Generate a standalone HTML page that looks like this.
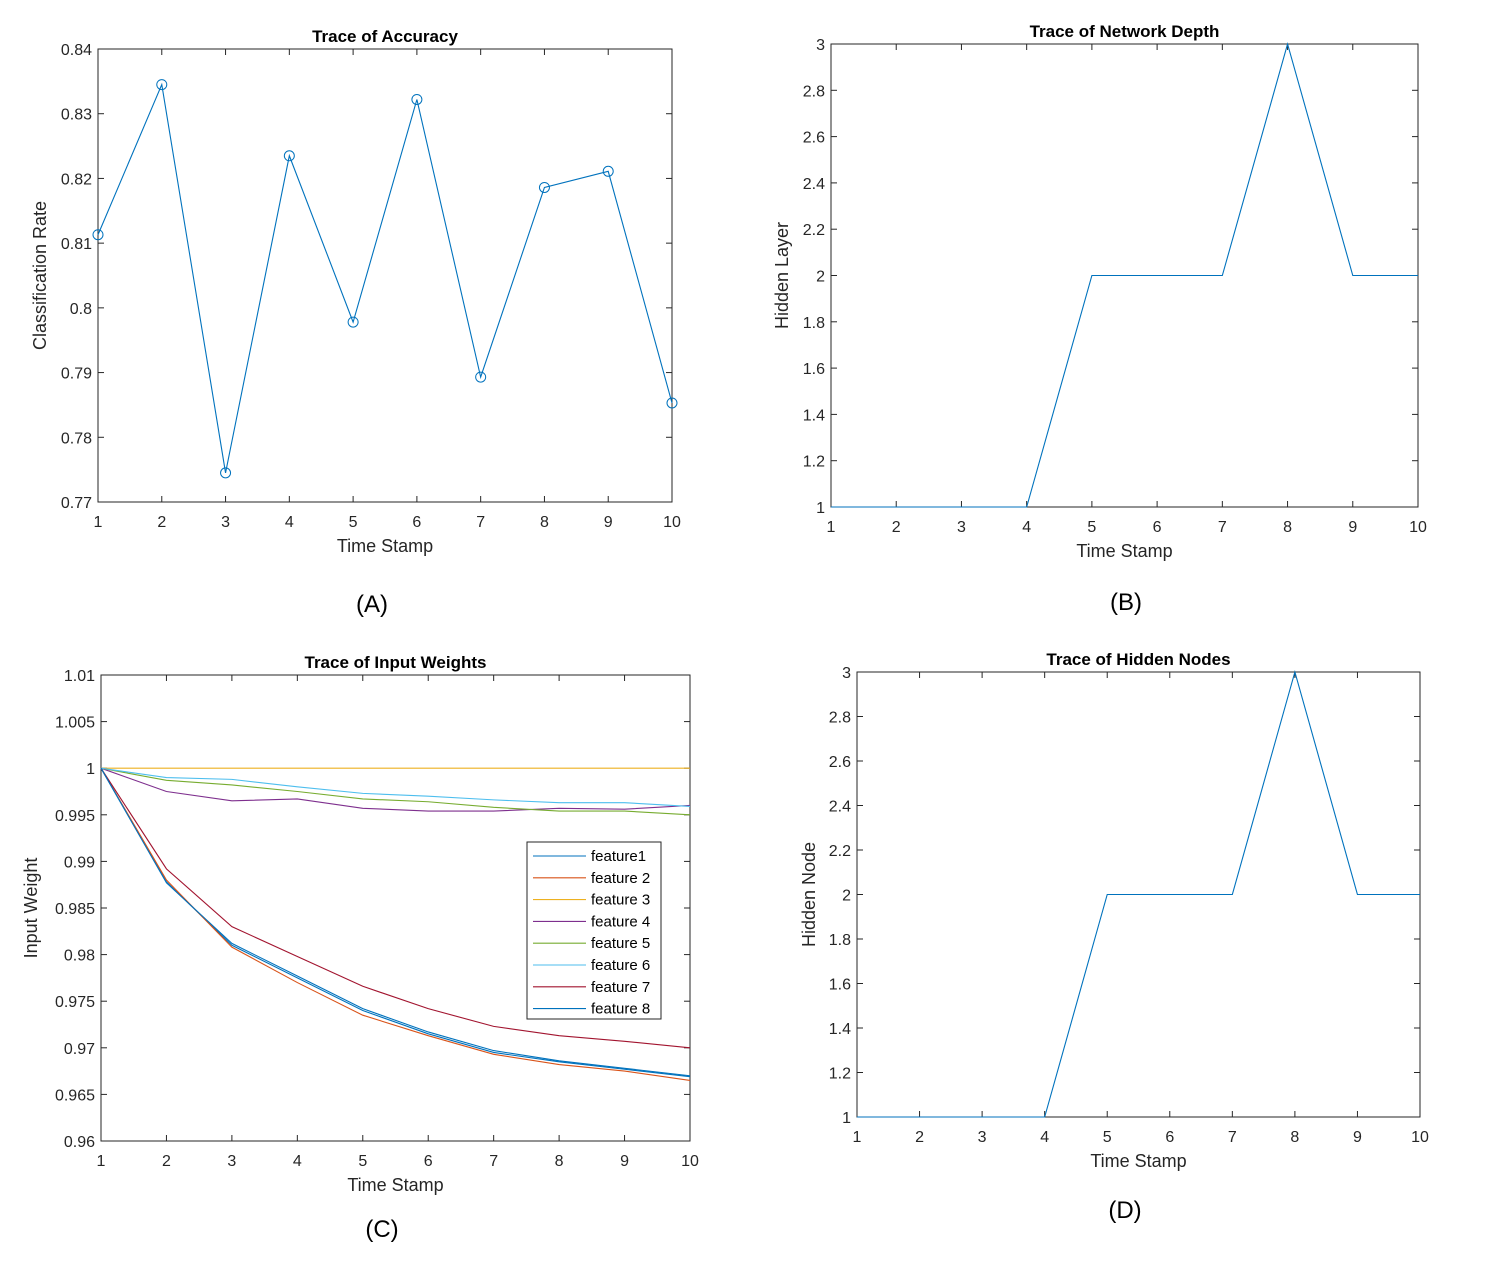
<!DOCTYPE html>
<html><head><meta charset="utf-8">
<style>
body{margin:0;background:#fff;}
svg{display:block;font-family:"Liberation Sans",Arial,sans-serif;}
</style></head>
<body>
<svg id="fig" width="1491" height="1263" xmlns="http://www.w3.org/2000/svg"></svg>
<script>
// ---- data ----
const timeStamps = [1,2,3,4,5,6,7,8,9,10];
const accuracy = [0.8113,0.8345,0.7745,0.8235,0.7978,0.8322,0.7893,0.8186,0.8211,0.7853];
const depth = [1,1,1,1,2,2,2,3,2,2];
const hiddenNodes = [1,1,1,1,2,2,2,3,2,2];
const featureNames = ["feature1","feature 2","feature 3","feature 4","feature 5","feature 6","feature 7","feature 8"];
const f1 = [1,0.9878,0.9810,0.9775,0.9740,0.9715,0.9695,0.9685,0.9677,0.9669];
const f2 = [1,0.9880,0.9808,0.9770,0.9735,0.9713,0.9693,0.9682,0.9675,0.9665];
const f3 = [1,1,1,1,1,1,1,1,1,1];
const f4 = [1,0.9975,0.9965,0.9967,0.9957,0.9954,0.9954,0.9957,0.9956,0.9960];
const f5 = [1,0.9987,0.9982,0.9975,0.9967,0.9964,0.9958,0.9954,0.9954,0.9950];
const f6 = [1,0.9990,0.9988,0.9980,0.9973,0.9970,0.9966,0.9963,0.9963,0.9959];
const f7 = [1,0.9892,0.9830,0.9798,0.9766,0.9742,0.9723,0.9713,0.9707,0.9700];
const f8 = [1,0.9877,0.9812,0.9777,0.9742,0.9717,0.9697,0.9686,0.9678,0.9670];
const featureSeries = [f1,f2,f3,f4,f5,f6,f7,f8];
const featureColors = ["#0072BD","#D95319","#EDB120","#7E2F8E","#77AC30","#4DBEEE","#A2142F","#0072BD"];
const ticksA = ["0.77","0.78","0.79","0.8","0.81","0.82","0.83","0.84"];
const ticksLayer = ["1","1.2","1.4","1.6","1.8","2","2.2","2.4","2.6","2.8","3"];
const ticksC = ["0.96","0.965","0.97","0.975","0.98","0.985","0.99","0.995","1","1.005","1.01"];

const NS="http://www.w3.org/2000/svg";
const svg=document.getElementById('fig');
function mk(tag,attrs,parent,txt){const e=document.createElementNS(NS,tag);for(const k in attrs)e.setAttribute(k,attrs[k]);if(txt!==undefined)e.textContent=txt;(parent||svg).appendChild(e);return e;}

function chart(cfg){
  const g=mk('g',{});
  
  
  const {x0,x1,y0,y1,ymin,ymax}=cfg;
  const sx=v=>x0+(v-1)/9*(x1-x0);
  const sy=v=>y1-(v-ymin)/(ymax-ymin)*(y1-y0);
  const box=mk('rect',{x:x0,y:y0,width:x1-x0,height:y1-y0,fill:'#fff',stroke:'#262626','stroke-width':1},g);
  
  
  timeStamps.forEach(t=>{
    const x=sx(t);
    mk('line',{x1:x,x2:x,y1:y1,y2:y1-6,stroke:'#262626'},g);
    mk('line',{x1:x,x2:x,y1:y0,y2:y0+6,stroke:'#262626'},g);
    const tl=mk('text',{x:x,y:y1+25,'font-size':16,'text-anchor':'middle',fill:'#262626'},g,String(t));
    
    
  });
  cfg.ticks.forEach(s=>{
    const y=sy(parseFloat(s));
    mk('line',{x1:x0,x2:x0+6,y1:y,y2:y,stroke:'#262626'},g);
    mk('line',{x1:x1,x2:x1-6,y1:y,y2:y,stroke:'#262626'},g);
    const tl=mk('text',{x:x0-6,y:y+6,'font-size':16,'text-anchor':'end',fill:'#262626'},g,s);
    
    
  });
  const t=mk('text',{x:(x0+x1)/2,y:y0-7,'font-size':17,'font-weight':'bold','text-anchor':'middle',fill:'#000'},g,cfg.title);
  
  
  const xl=mk('text',{x:(x0+x1)/2,y:y1+50,'font-size':18,'text-anchor':'middle',fill:'#262626'},g,'Time Stamp');
  
  
  const yx=cfg.ylx, yy=(y0+y1)/2;
  const yl=mk('text',{x:yx,y:yy,'font-size':18,'text-anchor':'middle',fill:'#262626',transform:`rotate(-90 ${yx} ${yy})`},g,cfg.ylabel);
  
  
  cfg.series.forEach((s,i)=>{
    const p=mk('polyline',{points:s.map((v,j)=>sx(timeStamps[j])+','+sy(v)).join(' '),fill:'none',stroke:cfg.colors[i],'stroke-width':1.1},g);
    
    
    if(cfg.markers){s.forEach((v,j)=>{
      const c=mk('circle',{cx:sx(timeStamps[j]),cy:sy(v),r:5,fill:'none',stroke:cfg.colors[i]},g);
      
      
    });}
  });
  const lab=mk('text',{x:cfg.labX,y:cfg.labY,'font-size':24,'text-anchor':'middle',fill:'#000'},g,cfg.label);
  
  
  return g;
}

chart({name:'accuracy-chart',x0:98,x1:672,y0:49,y1:502,ymin:0.77,ymax:0.84,ticks:ticksA,title:'Trace of Accuracy',ylabel:'Classification Rate',ylx:46,series:[accuracy],colors:['#0072BD'],markers:true,label:'(A)',labX:372,labY:612});
chart({name:'network-depth-chart',x0:831,x1:1418,y0:44,y1:507,ymin:1,ymax:3,ticks:ticksLayer,title:'Trace of Network Depth',ylabel:'Hidden Layer',ylx:788,series:[depth],colors:['#0072BD'],label:'(B)',labX:1126,labY:610});
chart({name:'input-weights-chart',x0:101,x1:690,y0:675,y1:1141,ymin:0.96,ymax:1.01,ticks:ticksC,title:'Trace of Input Weights',ylabel:'Input Weight',ylx:37,series:featureSeries,colors:featureColors,label:'(C)',labX:382,labY:1237});
chart({name:'hidden-nodes-chart',x0:857,x1:1420,y0:672,y1:1117,ymin:1,ymax:3,ticks:ticksLayer,title:'Trace of Hidden Nodes',ylabel:'Hidden Node',ylx:815,series:[hiddenNodes],colors:['#0072BD'],label:'(D)',labX:1125,labY:1218});

// legend
const lg=mk('g',{});


mk('rect',{x:527,y:842,width:134,height:177,fill:'#fff',stroke:'#262626'},lg);
featureNames.forEach((n,i)=>{
  const y=856+i*21.8;
  const e=mk('g',{},lg);
  
  
  mk('line',{x1:533,x2:586,y1:y,y2:y,stroke:featureColors[i],'stroke-width':1.1},e);
  mk('text',{x:591,y:y+5,'font-size':15,fill:'#000'},e,n);
});
</script>
</body></html>
